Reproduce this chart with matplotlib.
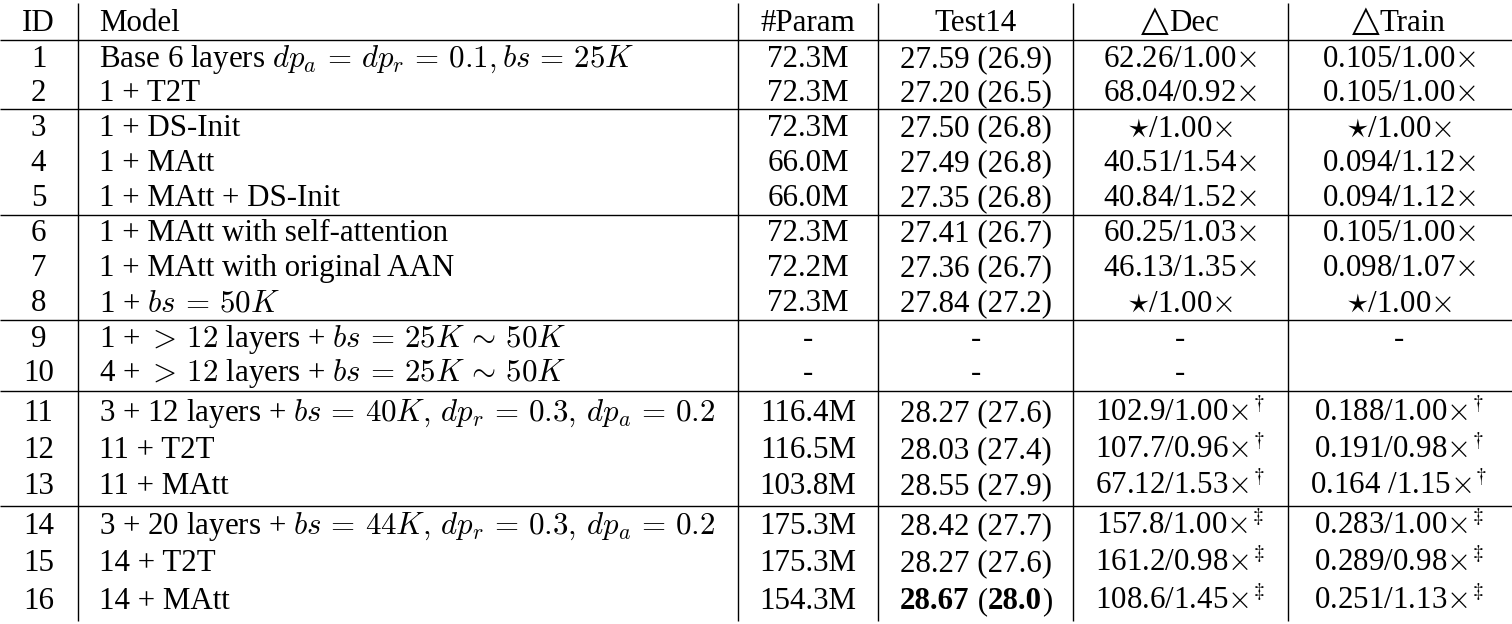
import matplotlib
matplotlib.use("Agg")
import matplotlib.pyplot as plt

plt.rcParams['font.family'] = ['Liberation Serif', 'DejaVu Serif']
plt.rcParams['mathtext.fontset'] = 'cm'

# ---------------- data ----------------
headers = ["ID", "Model", "#Param", "Test14", "Dec", "Train"]
delta_sign = "\u25B3"

ids = ["1", "2", "3", "4", "5", "6", "7", "8", "9", "10", "11", "12", "13", "14", "15", "16"]

models = [
    r"Base 6 layers $dp_a\,=\,dp_r\,=\,0.1, bs\,=\,25K$",
    "1 + T2T",
    "1 + DS-Init",
    "1 + MAtt",
    "1 + MAtt + DS-Init",
    "1 + MAtt with self-attention",
    "1 + MAtt with original AAN",
    r"1 + $bs\,=\,50K$",
    r"1 + $>\,12$ layers + $bs\,=\,25K\,\sim\,50K$",
    r"4 + $>\,12$ layers + $bs\,=\,25K\,\sim\,50K$",
    r"3 + 12 layers + $bs\,=\,40K,\,dp_r\,=\,0.3,\,dp_a\,=\,0.2$",
    "11 + T2T",
    "11 + MAtt",
    r"3 + 20 layers + $bs\,=\,44K,\,dp_r\,=\,0.3,\,dp_a\,=\,0.2$",
    "14 + T2T",
    "14 + MAtt",
]

params = ["72.3M", "72.3M", "72.3M", "66.0M", "66.0M", "72.3M", "72.2M", "72.3M",
          "-", "-", "116.4M", "116.5M", "103.8M", "175.3M", "175.3M", "154.3M"]

bleu = ["27.59", "27.20", "27.50", "27.49", "27.35", "27.41", "27.36", "27.84",
        "-", "-", "28.27", "28.03", "28.55", "28.42", "28.27", "28.67"]
sacrebleu = ["26.9", "26.5", "26.8", "26.8", "26.8", "26.7", "26.7", "27.2",
             "", "", "27.6", "27.4", "27.9", "27.7", "27.6", "28.0"]
best_row = 15  # row shown in bold in Test14

dec_time = ["62.26", "68.04", "STAR", "40.51", "40.84", "60.25", "46.13", "STAR",
            "-", "-", "102.9", "107.7", "67.12", "157.8", "161.2", "108.6"]
dec_speed = ["1.00", "0.92", "1.00", "1.54", "1.52", "1.03", "1.35", "1.00",
             "", "", "1.00", "0.96", "1.53", "1.00", "0.98", "1.45"]
train_time = ["0.105", "0.105", "STAR", "0.094", "0.094", "0.105", "0.098", "STAR",
              "-", "", "0.188", "0.191", "0.164 ", "0.283", "0.289", "0.251"]
train_speed = ["1.00", "1.00", "1.00", "1.12", "1.12", "1.00", "1.07", "1.00",
               "", "", "1.00", "0.98", "1.15", "1.00", "0.98", "1.13"]
marks = ["", "", "", "", "", "", "", "", "", "", "dagger", "dagger", "dagger",
         "ddagger", "ddagger", "ddagger"]

# ---------------- layout ----------------
W, H = 1512, 624
fig = plt.figure(figsize=(W / 100, H / 100), dpi=100)
ax = fig.add_axes([0, 0, 1, 1])
ax.set_xlim(0, W)
ax.set_ylim(H, 0)
ax.axis('off')

FS = 22.3
TRI_FS = 26
header_y = 20.7
row_y = [56.7, 90.7, 126, 161, 195.7, 231, 266, 301, 337, 371, 411, 448, 484, 524, 561, 599]
rule_y = [40, 109.3, 215.3, 320, 391.3, 506.3]
vlines = [77.5, 738, 878, 1073, 1288]
col_center = {"id": 38.5, "param": 808, "test": 976, "dec": 1180, "train": 1399}
model_left = 99
base_off = 10.3  # baseline offset from visual centre of digits

lw = 1.0
for y in rule_y:
    ax.plot([0, W], [y, y], color='black', lw=lw, solid_capstyle='butt')
for x in vlines:
    ax.plot([x, x], [3, 621], color='black', lw=lw, solid_capstyle='butt')


def put(x, y, s, ha='center', weight='normal'):
    ax.text(x, y + base_off, s, ha=ha, va='baseline', fontsize=FS, weight=weight)


def speed_cell(t, sp, mk):
    if t == "-" or t == "":
        return t
    if t == "STAR":
        t = r"$\star$"
    sup = ("^{\\%s}" % mk) if mk else ""
    return t + "/" + sp + r"$\times" + sup + "$"


fig.canvas.draw()
renderer = fig.canvas.get_renderer()


def put_segments(xc, y, segs):
    # segs: list of (text, weight, size, family)
    widths = []
    for s, w, fs, fam in segs:
        t = ax.text(0, 0, s, fontsize=fs, weight=w, family=fam)
        bb = t.get_window_extent(renderer=renderer)
        widths.append(bb.width)
        t.remove()
    total = sum(widths)
    x = xc - total / 2
    for (s, w, fs, fam), wd in zip(segs, widths):
        ax.text(x, y + base_off, s, ha='left', va='baseline', fontsize=fs, weight=w, family=fam)
        x += wd


SERIF = ['Liberation Serif', 'DejaVu Serif']
TRI = ['DejaVu Sans']

# header
put(col_center["id"], header_y, headers[0])
put(model_left, header_y, headers[1], ha='left')
put(col_center["param"], header_y, headers[2])
put(col_center["test"], header_y, headers[3])
put_segments(col_center["dec"], header_y,
             [(delta_sign, 'normal', TRI_FS, TRI), (headers[4], 'normal', FS, SERIF)])
put_segments(col_center["train"], header_y,
             [(delta_sign, 'normal', TRI_FS, TRI), (headers[5], 'normal', FS, SERIF)])

for i in range(len(ids)):
    y = row_y[i]
    put(col_center["id"], y, ids[i])
    put(model_left, y, models[i], ha='left')
    put(col_center["param"], y, params[i])
    if bleu[i] == "-":
        put(col_center["test"], y, "-")
    elif i == best_row:
        put_segments(col_center["test"], y,
                     [(bleu[i], 'bold', FS, SERIF), (" (", 'normal', FS, SERIF),
                      (sacrebleu[i], 'bold', FS, SERIF), (")", 'normal', FS, SERIF)])
    else:
        put(col_center["test"], y, "%s (%s)" % (bleu[i], sacrebleu[i]))
    put(col_center["dec"], y, speed_cell(dec_time[i], dec_speed[i], marks[i]))
    put(col_center["train"], y, speed_cell(train_time[i], train_speed[i], marks[i]))

fig.savefig("out.png", dpi=100, facecolor='white')
